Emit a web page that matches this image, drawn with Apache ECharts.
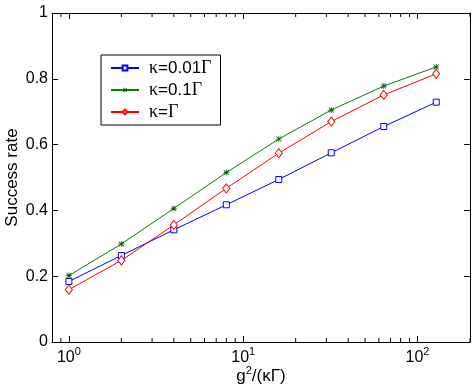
<!DOCTYPE html>
<html><head><meta charset="utf-8">
<script src="https://cdn.jsdelivr.net/npm/echarts@6/dist/echarts.min.js"></script>
<style>html,body{margin:0;padding:0;background:#fff}#c{width:474px;height:387px}</style>
</head><body><div id="c"></div>
<script>
const xValues = [1, 2, 4, 8, 16, 32, 64, 128];
const kappa001 = [0.184, 0.263, 0.341, 0.417, 0.494, 0.575, 0.655, 0.729];
const kappa01  = [0.202, 0.298, 0.406, 0.515, 0.617, 0.705, 0.778, 0.836];
const kappa1   = [0.159, 0.248, 0.356, 0.467, 0.574, 0.670, 0.751, 0.815];
const seriesNames = ['κ=0.01Γ', 'κ=0.1Γ', 'κ=Γ'];
const yTicks = [0, 0.2, 0.4, 0.6, 0.8, 1];
const minorTicks = [0.9, 2, 3, 4, 5, 6, 7, 8, 9, 20, 30, 40, 50, 60, 70, 80, 90, 200];

const FONT = 'Liberation Sans';
const pair = (ys) => xValues.map((x, i) => [x, ys[i]]);
const star = 'path://M4.4 0H5.6V10H4.4Z M0 4.4H10V5.6H0Z M1.4 0.5L9.5 8.6L8.6 9.5L0.5 1.4Z M8.6 0.5L9.5 1.4L1.4 9.5L0.5 8.6Z';

const chart = echarts.init(document.getElementById('c'), null, {renderer: 'canvas'});
const logAxisBase = {
  type: 'log', logBase: 10, min: 0.8, max: 200,
  axisLine: {show: true, onZero: false, lineStyle: {color: '#000', width: 1}},
  axisTick: {show: true, inside: true, length: 6, lineStyle: {color: '#000'}},
  splitLine: {show: false}, minorTick: {show: false}
};
const valAxisBase = {
  type: 'value', min: 0, max: 1, interval: 0.2,
  axisLine: {show: true, onZero: false, lineStyle: {color: '#000', width: 1}},
  axisTick: {show: true, inside: true, length: 6, lineStyle: {color: '#000'}},
  splitLine: {show: false}
};

const option = {
  animation: false,
  backgroundColor: '#fff',
  grid: {left: 52, right: 4, top: 13, bottom: 45, containLabel: false, outerBoundsMode: 'none'},
  xAxis: [
    Object.assign({}, logAxisBase, {
      position: 'bottom',
      name: '{t|g}{s|2}{t|/(κΓ)}', nameLocation: 'middle', nameGap: 23, nameMoveOverlap: false,
      nameTextStyle: {rich: {
        t: {fontFamily: FONT, fontSize: 17, color: '#000'},
        s: {fontFamily: FONT, fontSize: 11, color: '#000', padding: [0, 0, 12, 0]}
      }},
      axisLabel: {
        margin: 4, showMinLabel: false, showMaxLabel: false,
        formatter: (v) => {
          const e = Math.round(Math.log10(v));
          if (Math.abs(Math.pow(10, e) - v) > 1e-9) return '';
          return '{b|10}{s|' + e + '}';
        },
        rich: {
          b: {fontFamily: FONT, fontSize: 16, color: '#000'},
          s: {fontFamily: FONT, fontSize: 11, color: '#000', padding: [0, 0, 13, 0]}
        }
      }
    }),
    Object.assign({}, logAxisBase, {position: 'top', axisLabel: {show: false}})
  ],
  yAxis: [
    Object.assign({}, valAxisBase, {
      position: 'left',
      name: 'Success rate', nameLocation: 'middle', nameGap: 31, nameMoveOverlap: false,
      nameTextStyle: {fontFamily: FONT, fontSize: 17, color: '#000'},
      axisLabel: {
        margin: 4, fontFamily: FONT, fontSize: 16, color: '#000',
        formatter: (v) => (yTicks.some(t => Math.abs(t - v) < 1e-9) ? String(Math.round(v * 10) / 10) : '')
      }
    }),
    Object.assign({}, valAxisBase, {position: 'right', axisLabel: {show: false}})
  ],
  legend: {
    data: seriesNames,
    orient: 'vertical', left: 101, top: 55,
    padding: [4, 9, 4, 9],
    itemWidth: 28, itemHeight: 6, itemGap: 4,
    borderColor: '#000', borderWidth: 1, backgroundColor: '#fff',
    selectedMode: false,
    formatter: (n) => n.replace(/κ/g, '{g|κ}').replace(/Γ/g, '{g|Γ}').replace(/(=[0-9.]*)/, '{t|$1}'),
    textStyle: {
      fontFamily: FONT, fontSize: 17, color: '#000', lineHeight: 18, padding: [0, 0, 0, 5],
      rich: {
        g: {fontFamily: 'Liberation Serif', fontSize: 18, color: '#000', lineHeight: 18},
        t: {fontFamily: FONT, fontSize: 17, color: '#000', lineHeight: 18}
      }
    }
  },
  series: [
    {
      name: seriesNames[0], type: 'line', data: pair(kappa001),
      symbol: 'rect', symbolSize: 6,
      lineStyle: {color: '#0000ff', width: 1},
      itemStyle: {color: '#ffffff', borderColor: '#0000ff', borderWidth: 1},
      emphasis: {disabled: true}
    },
    {
      name: seriesNames[1], type: 'line', data: pair(kappa01),
      symbol: star, symbolSize: 6,
      lineStyle: {color: '#008000', width: 1},
      itemStyle: {color: '#006400'},
      emphasis: {disabled: true}
    },
    {
      name: seriesNames[2], type: 'line', data: pair(kappa1),
      symbol: 'diamond', symbolSize: [7, 9],
      lineStyle: {color: '#ff0000', width: 1},
      itemStyle: {color: '#ffffff', borderColor: '#ff0000', borderWidth: 1},
      emphasis: {disabled: true}
    },
    {
      type: 'custom', silent: true, clip: false,
      data: minorTicks.map(x => [x]),
      encode: {x: 0},
      renderItem: (params, api) => {
        const x = api.value(0);
        const b = api.coord([x, 0]);
        const t = api.coord([x, 1]);
        return {type: 'group', children: [
          {type: 'line', shape: {x1: b[0], y1: b[1], x2: b[0], y2: b[1] - 4}, style: {stroke: '#000', lineWidth: 1}},
          {type: 'line', shape: {x1: t[0], y1: t[1], x2: t[0], y2: t[1] + 4}, style: {stroke: '#000', lineWidth: 1}}
        ]};
      }
    }
  ]
};
chart.setOption(option);
</script></body></html>
